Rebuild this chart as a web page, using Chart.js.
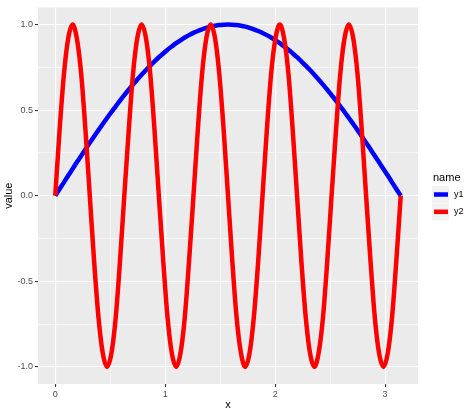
<!DOCTYPE html>
<html>
<head>
<meta charset="utf-8">
<script src="https://cdn.jsdelivr.net/npm/chart.js@4"></script>
<style>
  html, body { margin: 0; padding: 0; background: #fff; }
  #wrap { width: 474px; height: 416px; }
</style>
</head>
<body>
<div id="wrap"><canvas id="chart" width="474" height="416"></canvas></div>
<script>
// x positions of the sampled points (0 .. pi)
const xs = [
  0.000, 0.039, 0.079, 0.118, 0.157, 0.196, 0.236, 0.275, 0.314, 0.353,
  0.393, 0.432, 0.471, 0.511, 0.550, 0.589, 0.628, 0.668, 0.707, 0.746,
  0.785, 0.825, 0.864, 0.903, 0.942, 0.982, 1.021, 1.060, 1.100, 1.139,
  1.178, 1.217, 1.257, 1.296, 1.335, 1.374, 1.414, 1.453, 1.492, 1.532,
  1.571, 1.610, 1.649, 1.689, 1.728, 1.767, 1.806, 1.846, 1.885, 1.924,
  1.963, 2.003, 2.042, 2.081, 2.121, 2.160, 2.199, 2.238, 2.278, 2.317,
  2.356, 2.395, 2.435, 2.474, 2.513, 2.553, 2.592, 2.631, 2.670, 2.710,
  2.749, 2.788, 2.827, 2.867, 2.906, 2.945, 2.985, 3.024, 3.063, 3.102,
  3.142
];

// y1 - the slow blue arch
const y1 = [
  0.000, 0.039, 0.078, 0.118, 0.156, 0.195, 0.233, 0.271, 0.309, 0.346,
  0.383, 0.419, 0.454, 0.489, 0.522, 0.556, 0.588, 0.619, 0.649, 0.679,
  0.707, 0.734, 0.760, 0.785, 0.809, 0.831, 0.853, 0.872, 0.891, 0.908,
  0.924, 0.938, 0.951, 0.962, 0.972, 0.981, 0.988, 0.993, 0.997, 0.999,
  1.000, 0.999, 0.997, 0.993, 0.988, 0.981, 0.972, 0.962, 0.951, 0.938,
  0.924, 0.908, 0.891, 0.872, 0.853, 0.831, 0.809, 0.785, 0.760, 0.734,
  0.707, 0.679, 0.649, 0.619, 0.588, 0.556, 0.522, 0.489, 0.454, 0.419,
  0.383, 0.346, 0.309, 0.271, 0.233, 0.195, 0.156, 0.118, 0.078, 0.039,
  0.000
];

// y2 - the fast red wave
const y2 = [
  0, 0.38, 0.71, 0.92, 1, 0.92, 0.71, 0.38, 0, -0.38, -0.71, -0.92, -1, -0.92, -0.71, -0.38,
  0, 0.38, 0.71, 0.92, 1, 0.92, 0.71, 0.38, 0, -0.38, -0.71, -0.92, -1, -0.92, -0.71, -0.38,
  0, 0.38, 0.71, 0.92, 1, 0.92, 0.71, 0.38, 0, -0.38, -0.71, -0.92, -1, -0.92, -0.71, -0.38,
  0, 0.38, 0.71, 0.92, 1, 0.92, 0.71, 0.38, 0, -0.38, -0.71, -0.92, -1, -0.92, -0.71, -0.38,
  0, 0.38, 0.71, 0.92, 1, 0.92, 0.71, 0.38, 0, -0.38, -0.71, -0.92, -1, -0.92, -0.71, -0.38,
  0
];

const seriesNames = ['y1', 'y2'];
const seriesColors = ['#0000FF', '#FF0000'];

// tick values (majors labelled, minors only as grid)
const xTicks = [0, 0.5, 1, 1.5, 2, 2.5, 3];
const yTicks = [-1, -0.75, -0.5, -0.25, 0, 0.25, 0.5, 0.75, 1];

const toPoints = ys => xs.map((x, i) => ({ x: x, y: ys[i] }));
const isMajorX = v => Number.isInteger(v);
const isMajorY = v => Math.abs(v * 2 - Math.round(v * 2)) < 1e-9;

const FONT = 'Liberation Sans, Arial, sans-serif';

// grey panel behind the plot
const panelBg = {
  id: 'panelBg',
  beforeDraw(chart) {
    const { ctx, chartArea: a } = chart;
    ctx.save();
    ctx.fillStyle = '#EBEBEB';
    ctx.fillRect(a.left, a.top, a.right - a.left, a.bottom - a.top);
    ctx.restore();
  }
};

// ggplot-like legend on the right
const sideLegend = {
  id: 'sideLegend',
  afterDraw(chart) {
    const ctx = chart.ctx;
    ctx.save();
    ctx.textBaseline = 'middle';
    ctx.textAlign = 'left';
    ctx.fillStyle = '#000';
    ctx.font = '11px ' + FONT;
    ctx.fillText('name', 433, 178);
    seriesNames.forEach((name, i) => {
      const cy = 194.5 + i * 17.3;
      ctx.fillStyle = '#F2F2F2';
      ctx.fillRect(432, cy - 8.5, 17, 17);
      ctx.strokeStyle = seriesColors[i];
      ctx.lineWidth = 4.5;
      ctx.beginPath();
      ctx.moveTo(434, cy);
      ctx.lineTo(448, cy);
      ctx.stroke();
      ctx.fillStyle = '#000';
      ctx.font = '9px ' + FONT;
      ctx.fillText(name, 454, cy);
    });
    ctx.restore();
  }
};

const ctx = document.getElementById('chart').getContext('2d');
new Chart(ctx, {
  type: 'line',
  data: {
    datasets: [
      {
        label: seriesNames[0],
        data: toPoints(y1),
        borderColor: seriesColors[0],
        borderWidth: 4.5,
        pointRadius: 0,
        cubicInterpolationMode: 'monotone',
        order: 2
      },
      {
        label: seriesNames[1],
        data: toPoints(y2),
        borderColor: seriesColors[1],
        borderWidth: 4.5,
        pointRadius: 0,
        cubicInterpolationMode: 'monotone',
        order: 1
      }
    ]
  },
  options: {
    responsive: false,
    devicePixelRatio: 1,
    animation: false,
    events: [],
    layout: { padding: { left: 0, top: 5, right: 56, bottom: 4 } },
    plugins: { legend: { display: false }, tooltip: { enabled: false } },
    scales: {
      x: {
        type: 'linear',
        min: -0.157,
        max: 3.299,
        afterBuildTicks: s => { s.ticks = xTicks.map(v => ({ value: v })); },
        afterFit: s => { s.height = 28; },
        border: { display: false },
        grid: {
          color: '#FFFFFF',
          lineWidth: c => isMajorX(c.tick.value) ? 1.1 : 0.55,
          tickColor: c => isMajorX(c.tick.value) ? '#333333' : 'rgba(0,0,0,0)',
          tickLength: 3,
          drawTicks: true
        },
        ticks: {
          autoSkip: false,
          maxRotation: 0,
          padding: 2,
          color: '#4D4D4D',
          font: { family: FONT, size: 9 },
          callback: v => isMajorX(v) ? String(v) : ''
        },
        title: {
          display: true,
          text: 'x',
          color: '#000',
          font: { family: FONT, size: 11 },
          padding: { top: 0, bottom: 0 }
        }
      },
      y: {
        type: 'linear',
        min: -1.1,
        max: 1.1,
        afterBuildTicks: s => { s.ticks = yTicks.map(v => ({ value: v })); },
        afterFit: s => { s.width = 38; },
        border: { display: false },
        grid: {
          color: '#FFFFFF',
          lineWidth: c => isMajorY(c.tick.value) ? 1.1 : 0.55,
          tickColor: c => isMajorY(c.tick.value) ? '#333333' : 'rgba(0,0,0,0)',
          tickLength: 3,
          drawTicks: true
        },
        ticks: {
          autoSkip: false,
          padding: 2,
          color: '#4D4D4D',
          font: { family: FONT, size: 9 },
          callback: v => isMajorY(v) ? v.toFixed(1) : ''
        },
        title: {
          display: true,
          text: 'value',
          color: '#000',
          font: { family: FONT, size: 11 },
          padding: { top: 2, bottom: 0 }
        }
      }
    }
  },
  plugins: [panelBg, sideLegend]
});
</script>
</body>
</html>
